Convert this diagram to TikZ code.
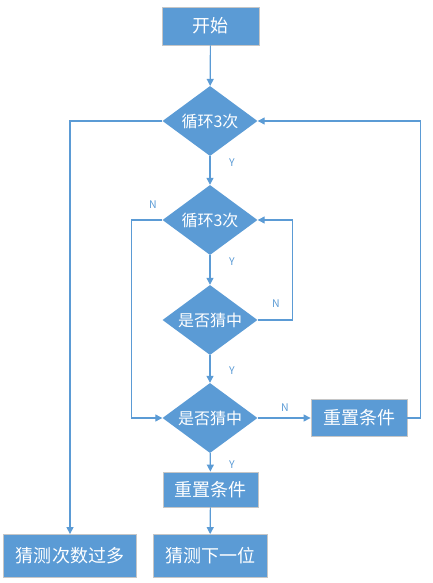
\documentclass[tikz,border=0pt]{standalone}
\usepackage{fontspec}
\setmainfont{Noto Sans CJK SC}
\usetikzlibrary{positioning,shapes.geometric,arrows.meta}
\definecolor{flowblue}{HTML}{5B9BD5}

\begin{document}
\begin{tikzpicture}[x=1pt, y=-1pt,
                box/.style={rectangle, draw=gray!45, line width=0.8pt, fill=flowblue, text=white, font=\fontsize{18}{18}\selectfont, inner sep=0pt},
                decision/.style={diamond, fill=flowblue, text=white, font=\fontsize{16}{16}\selectfont, minimum width=95pt, minimum height=70pt, shape aspect=1.36, inner sep=0pt},
                link/.style={draw=flowblue, line width=1.2pt, -{Triangle[length=7pt,width=7pt]}},
                yn/.style={text=flowblue, font=\fontsize{10.5}{11}\selectfont}
            ]
            \useasboundingbox (0,0) rectangle (433,583);

            % main column
            \node[box, minimum width=97pt, minimum height=38pt] (start) at (210.5, 26) {开始};
            \node[decision] (outerloop) at (210, 121) {循环3次};
            \node[decision] (innerloop) at (210, 220) {循环3次};
            \node[decision] (checkA) at (210, 320) {是否猜中};
            \node[decision] (checkB) at (210, 418) {是否猜中};
            \node[box, minimum width=95pt, minimum height=35pt] (resetmid) at (210.5, 489.5) {重置条件};
            \node[box, minimum width=114pt, minimum height=43pt] (nextdigit) at (210, 556) {猜测下一位};

            % side boxes
            \node[box, minimum width=96pt, minimum height=37pt] (resetright) at (359, 418) {重置条件};
            \node[box, minimum width=133pt, minimum height=43pt] (toomany) at (70, 556) {猜测次数过多};

            % Y / N labels
            \node[yn] (y1) at (232, 163) {Y};
            \node[yn] (y2) at (232, 262) {Y};
            \node[yn] (y3) at (232, 371) {Y};
            \node[yn] (y4) at (232, 465) {Y};
            \node[yn] (n1) at (153, 205) {N};
            \node[yn] (n2) at (276, 304) {N};
            \node[yn] (n3) at (285, 408) {N};

            \draw[link] (start) -- (outerloop);
            \draw[link] (outerloop) -- (innerloop);
            \draw[link] (innerloop) -- (checkA);
            \draw[link] (checkA) -- (checkB);
            \draw[link] (checkB) -- (resetmid);
            \draw[link] (resetmid) -- (nextdigit);
            \draw[link] (checkB) -- (resetright);

            % loop-backs
            \draw[link] (outerloop.west) -| (toomany.north);
            \draw[link] (innerloop.west) -- ++(-31, 0) |- (checkB.west);
            \draw[link] (checkA.east) -- ++(35, 0) |- (innerloop.east);
            \draw[link] (resetright.east) -- ++(13, 0) |- (outerloop.east);
\end{tikzpicture}
\end{document}
